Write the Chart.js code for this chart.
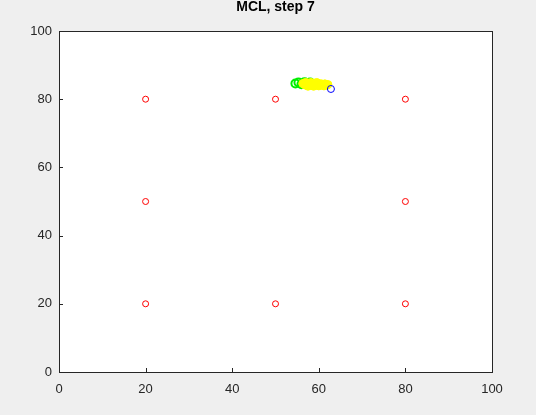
<!DOCTYPE html>
<html>
<head>
<meta charset="utf-8">
<script src="https://cdn.jsdelivr.net/npm/chart.js@4"></script>
<style>
  html, body { margin: 0; padding: 0; background: #efefef; }
  #wrap { width: 536px; height: 415px; }
</style>
</head>
<body>
<div id="wrap"><canvas id="c" width="536" height="415"></canvas></div>
<script>
// landmarks (red)
const landmarkX = [20, 50, 80, 20, 80, 20, 50, 80];
const landmarkY = [80, 80, 80, 50, 50, 20, 20, 20];

// particles, previous step (green)
const greenX = [54.6, 55.3, 56.0, 56.7, 57.4, 58.0];
const greenY = [84.6, 84.9, 84.4, 85.0, 84.7, 84.9];

// particles (yellow)
const yellowX = [56.3, 56.8, 57.3, 57.8, 58.2, 58.6, 59.0, 59.4, 59.8, 60.2, 60.6, 61.0, 61.4, 61.8, 62.1, 57.5, 58.8, 60.0, 61.2, 56.9, 59.5];
const yellowY = [84.6, 84.2, 84.8, 84.3, 84.9, 84.1, 84.6, 84.3, 84.7, 84.1, 84.5, 84.2, 84.5, 84.1, 84.3, 83.8, 83.8, 83.9, 83.9, 84.9, 84.9];

// robot estimate (blue)
const robotX = [62.8];
const robotY = [83.0];

const xTicks = [0, 20, 40, 60, 80, 100];
const yTicks = [0, 20, 40, 60, 80, 100];
const titleText = 'MCL, step 7';

const toPts = (xs, ys) => xs.map((x, i) => ({ x: x, y: ys[i] }));

const axisColor = '#262626';

// white plot area, box, inward ticks and title
const framePlugin = {
  id: 'frame',
  beforeDraw(chart) {
    const a = chart.chartArea;
    const ctx = chart.ctx;
    ctx.save();
    ctx.fillStyle = '#efefef';
    ctx.fillRect(0, 0, chart.width, chart.height);
    ctx.fillStyle = '#ffffff';
    ctx.fillRect(a.left, a.top, a.right - a.left, a.bottom - a.top);
    ctx.restore();
  },
  afterDraw(chart) {
    const a = chart.chartArea;
    const ctx = chart.ctx;
    const xs = chart.scales.x, ys = chart.scales.y;
    ctx.save();
    ctx.strokeStyle = axisColor;
    ctx.lineWidth = 1;
    ctx.beginPath();
    xTicks.forEach(v => {
      const px = Math.round(xs.getPixelForValue(v)) + 0.5;
      ctx.moveTo(px, a.bottom);
      ctx.lineTo(px, a.bottom - 4);
    });
    yTicks.forEach(v => {
      const py = Math.round(ys.getPixelForValue(v)) + 0.5;
      ctx.moveTo(a.left, py);
      ctx.lineTo(a.left + 4, py);
    });
    ctx.stroke();
    ctx.strokeRect(Math.round(a.left) + 0.5, Math.round(a.top) + 0.5,
      Math.round(a.right - a.left), Math.round(a.bottom - a.top));
    ctx.fillStyle = '#000000';
    ctx.font = 'bold 14px "Liberation Sans", Arial, sans-serif';
    ctx.textAlign = 'center';
    ctx.textBaseline = 'middle';
    ctx.fillText(titleText, (a.left + a.right) / 2, 7);
    ctx.restore();
  }
};

new Chart(document.getElementById('c'), {
  type: 'scatter',
  data: {
    datasets: [
      {
        label: 'robot',
        data: toPts(robotX, robotY),
        pointStyle: 'circle',
        pointRadius: 3.5,
        borderColor: '#0000ff',
        backgroundColor: 'rgba(0,0,0,0)',
        borderWidth: 1
      },
      {
        label: 'particles',
        data: toPts(yellowX, yellowY),
        pointRadius: 4,
        borderColor: '#ffff00',
        backgroundColor: '#ffff00',
        borderWidth: 1
      },
      {
        label: 'previous',
        data: toPts(greenX, greenY),
        pointRadius: 4,
        borderColor: '#00ee00',
        backgroundColor: 'rgba(0,0,0,0)',
        borderWidth: 2
      },
      {
        label: 'landmarks',
        data: toPts(landmarkX, landmarkY),
        pointRadius: 3,
        borderColor: '#ff0000',
        backgroundColor: 'rgba(0,0,0,0)',
        borderWidth: 1
      }
    ]
  },
  options: {
    responsive: false,
    animation: false,
    layout: { padding: { top: 31, right: 44, left: 0, bottom: 0 } },
    plugins: {
      legend: { display: false },
      title: { display: false },
      tooltip: { enabled: false }
    },
    scales: {
      x: {
        type: 'linear',
        min: 0, max: 100,
        afterFit: s => { s.height = 43; },
        afterBuildTicks: s => { s.ticks = xTicks.map(v => ({ value: v })); },
        grid: { display: false, drawTicks: false },
        border: { display: false },
        ticks: { color: axisColor, padding: 10, font: { size: 13, family: '"Liberation Sans", Arial, sans-serif' } }
      },
      y: {
        type: 'linear',
        min: 0, max: 100,
        afterFit: s => { s.width = 59; },
        afterBuildTicks: s => { s.ticks = yTicks.map(v => ({ value: v })); },
        grid: { display: false, drawTicks: false },
        border: { display: false },
        ticks: { color: axisColor, padding: 7, font: { size: 13, family: '"Liberation Sans", Arial, sans-serif' } }
      }
    }
  },
  plugins: [framePlugin]
});
</script>
</body>
</html>
